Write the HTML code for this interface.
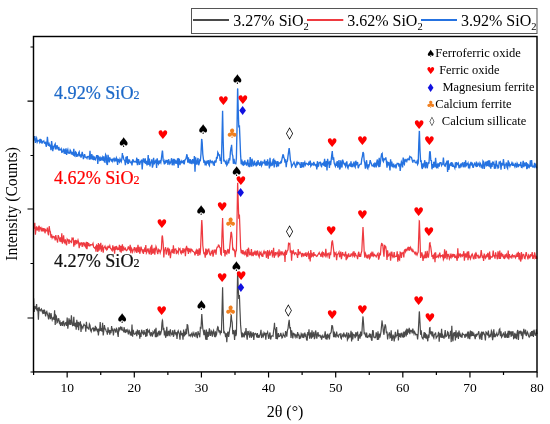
<!DOCTYPE html>
<html><head><meta charset="utf-8"><style>
html,body{margin:0;padding:0;background:#fff;width:550px;height:424px;overflow:hidden}
svg{display:block}
</style></head><body>
<svg width="550" height="424" viewBox="0 0 550 424">
<rect width="550" height="424" fill="#fff"/>
<g fill="none" stroke-width="1.35" stroke-linejoin="miter" style="filter:blur(0.3px)">
<polyline stroke="#2572e0" points="33.6,140.5 34.2,139.1 34.8,136.1 35.4,142.9 36.0,139.8 36.6,138.2 37.2,142.0 37.8,140.5 38.4,140.8 39.0,140.4 39.6,142.0 40.2,138.8 40.8,141.6 41.4,140.6 42.0,143.6 42.6,141.5 43.2,141.5 43.8,141.0 44.4,143.0 45.0,143.3 45.6,142.6 46.2,146.7 46.8,144.7 47.4,136.8 48.0,142.7 48.6,146.0 49.2,144.0 49.8,145.9 50.4,145.5 51.0,150.1 51.6,141.0 52.2,146.2 52.8,151.2 53.4,145.8 54.0,147.5 54.6,145.1 55.2,144.0 55.8,149.5 56.4,147.8 57.0,145.1 57.6,148.0 58.2,149.1 58.8,146.8 59.4,149.9 60.0,149.8 60.6,149.7 61.2,148.8 61.8,152.2 62.4,151.9 63.0,150.5 63.6,148.7 64.2,153.6 64.8,149.4 65.4,154.0 66.0,148.3 66.6,155.0 67.2,151.1 67.8,149.5 68.4,153.0 69.0,153.0 69.6,153.2 70.2,150.2 70.8,151.3 71.4,154.5 72.0,151.8 72.6,154.2 73.2,154.8 73.8,148.9 74.4,155.7 75.0,156.2 75.6,151.9 76.2,152.5 76.8,156.8 77.4,154.2 78.0,156.4 78.6,153.1 79.2,152.0 79.8,156.4 80.4,154.4 81.0,157.7 81.6,155.3 82.2,151.9 82.8,154.8 83.4,159.2 84.0,156.8 84.6,154.1 85.2,157.0 85.8,157.5 86.4,157.2 87.0,158.3 87.6,156.5 88.2,156.4 88.8,156.5 89.4,159.7 90.0,150.9 90.6,159.2 91.2,157.5 91.8,154.0 92.4,159.6 93.0,155.6 93.6,160.1 94.2,156.5 94.8,159.4 95.4,159.9 96.0,157.6 96.6,155.7 97.2,155.7 97.8,163.9 98.4,156.4 99.0,157.1 99.6,159.7 100.2,158.1 100.8,160.9 101.4,158.1 102.0,159.0 102.6,157.4 103.2,161.0 103.8,156.4 104.4,161.9 105.0,162.2 105.6,154.5 106.2,155.6 106.8,163.6 107.4,164.9 108.0,154.9 108.6,158.0 109.2,162.5 109.8,157.4 110.4,159.6 111.0,159.7 111.6,161.6 112.2,158.6 112.8,161.1 113.4,159.5 114.0,158.4 114.6,160.4 115.2,158.4 115.8,161.3 116.4,157.8 117.0,159.1 117.6,164.9 118.2,158.9 118.8,160.5 119.4,161.8 120.0,159.1 120.6,160.6 121.2,161.8 121.8,159.3 122.4,153.0 122.5,157.4 123.0,155.3 123.6,158.7 124.2,160.0 124.8,161.0 125.4,165.1 126.0,156.7 126.6,162.7 127.2,156.1 127.8,163.4 128.4,163.3 129.0,159.8 129.6,160.1 130.2,162.5 130.8,162.8 131.4,162.2 132.0,165.3 132.6,160.0 133.2,160.0 133.8,161.9 134.4,161.6 135.0,161.9 135.6,161.5 136.2,162.1 136.8,157.7 137.4,165.3 138.0,159.6 138.6,159.7 139.2,164.4 139.8,164.2 140.4,161.6 141.0,161.7 141.6,159.6 142.2,169.4 142.8,161.0 143.4,158.5 144.0,161.4 144.6,163.0 145.2,158.4 145.8,164.0 146.4,160.9 147.0,165.4 147.6,163.1 148.2,155.0 148.8,165.0 149.4,158.5 150.0,166.4 150.6,161.5 151.2,163.3 151.8,159.3 152.4,167.6 153.0,165.1 153.6,157.9 154.2,164.3 154.8,160.5 155.4,163.1 156.0,159.6 156.6,168.0 157.2,158.4 157.8,162.8 158.4,163.9 159.0,160.5 159.6,162.6 160.2,161.4 160.8,162.7 161.4,158.6 162.0,153.6 162.4,150.5 162.6,151.7 163.2,160.5 163.8,161.6 164.4,164.4 165.0,160.9 165.6,162.4 166.2,161.0 166.8,161.9 167.4,160.0 168.0,164.8 168.6,159.2 169.2,161.8 169.8,163.9 170.4,162.9 171.0,161.0 171.6,158.2 172.2,165.3 172.8,162.5 173.4,158.8 174.0,165.5 174.6,159.9 175.2,160.4 175.8,163.7 176.4,161.8 177.0,162.9 177.6,158.4 178.2,168.0 178.8,159.0 179.4,159.4 180.0,165.2 180.6,160.8 181.2,163.3 181.8,161.1 182.4,162.4 183.0,162.8 183.6,160.2 184.2,164.5 184.8,160.3 185.4,159.5 186.0,158.6 186.6,155.7 186.7,154.3 187.2,155.6 187.8,162.6 188.4,157.3 189.0,161.6 189.6,163.3 190.2,159.0 190.8,163.6 191.4,161.9 192.0,164.2 192.6,159.1 193.2,161.6 193.8,163.5 194.4,156.1 195.0,171.6 195.6,157.3 196.2,161.1 196.8,164.7 197.4,161.1 198.0,158.0 198.6,165.3 199.2,163.3 199.8,160.0 200.4,160.4 201.0,153.7 201.6,139.7 201.8,139.0 202.2,142.7 202.8,154.3 203.4,158.9 204.0,163.0 204.6,160.3 205.2,165.3 205.8,161.4 206.4,163.8 207.0,161.7 207.6,162.6 208.2,160.1 208.8,164.5 209.4,165.6 210.0,159.7 210.6,161.2 211.2,162.5 211.8,161.3 212.4,161.2 213.0,163.3 213.6,161.5 214.2,165.8 214.8,160.5 215.4,162.1 216.0,161.9 216.6,156.9 217.2,158.7 217.8,152.4 218.2,153.2 218.4,154.1 219.0,155.4 219.6,155.1 220.2,160.9 220.8,157.6 221.4,164.0 222.0,137.4 222.6,110.7 222.6,110.8 223.2,141.5 223.8,160.7 224.4,160.4 225.0,161.5 225.6,163.1 226.2,161.6 226.8,165.3 227.4,164.2 228.0,161.5 228.6,163.4 229.2,158.0 229.8,160.4 230.4,152.0 231.0,147.7 231.3,147.6 231.6,144.7 232.2,154.2 232.8,155.9 233.4,163.8 234.0,158.9 234.6,163.0 235.2,163.7 235.8,163.8 236.4,158.1 237.0,129.2 237.6,89.0 237.7,88.5 238.2,108.7 238.8,127.4 239.4,125.7 239.4,125.2 240.0,139.7 240.6,155.0 241.2,164.2 241.8,159.6 242.4,165.3 243.0,161.3 243.6,165.0 244.2,164.6 244.8,160.3 245.4,163.6 246.0,163.2 246.6,165.7 247.2,163.4 247.8,159.5 248.4,165.3 249.0,164.3 249.6,167.1 250.2,157.1 250.8,163.6 251.4,166.7 252.0,158.7 252.6,161.8 253.2,165.5 253.8,164.9 254.4,160.6 255.0,165.1 255.6,162.9 256.2,166.5 256.8,161.6 257.4,165.4 258.0,160.1 258.6,163.7 259.2,163.2 259.8,165.9 260.4,163.4 261.0,160.9 261.6,165.6 262.2,164.3 262.8,162.2 263.4,162.8 264.0,163.1 264.6,159.6 265.2,165.5 265.8,163.6 266.4,161.1 267.0,165.9 267.6,159.4 268.2,163.5 268.8,162.8 269.4,168.4 270.0,157.7 270.6,166.3 271.2,164.9 271.8,163.3 272.4,165.7 273.0,159.9 273.6,159.3 274.2,167.5 274.8,159.9 275.4,163.9 276.0,161.1 276.6,167.1 277.2,164.4 277.8,161.0 278.4,166.3 279.0,162.8 279.6,162.9 280.2,163.3 280.8,161.7 281.4,162.3 282.0,159.0 282.6,156.2 283.2,157.9 283.3,154.3 283.8,157.4 284.4,158.6 285.0,162.6 285.6,159.3 286.2,167.1 286.8,161.7 287.4,161.1 288.0,156.2 288.6,151.9 289.0,148.8 289.2,148.2 289.8,153.5 290.4,160.1 291.0,162.0 291.6,166.7 292.2,165.7 292.8,164.3 293.4,163.6 294.0,162.4 294.6,164.3 295.2,165.7 295.8,167.7 296.4,163.6 297.0,162.2 297.6,164.1 298.2,162.6 298.8,162.5 299.4,164.2 300.0,164.4 300.6,167.8 301.2,162.1 301.8,166.9 302.4,166.5 303.0,162.2 303.6,167.4 304.2,163.8 304.8,162.2 305.4,164.9 306.0,163.7 306.6,163.3 307.2,163.7 307.8,164.4 308.4,164.8 309.0,161.5 309.6,164.8 310.2,160.5 310.8,166.1 311.4,165.1 312.0,163.7 312.6,164.5 313.2,165.0 313.8,161.9 314.4,164.1 315.0,165.4 315.6,165.8 316.2,163.9 316.8,169.4 317.4,161.2 318.0,166.4 318.6,165.9 319.2,162.5 319.8,162.3 320.4,162.2 321.0,165.7 321.6,166.5 322.2,163.6 322.8,164.2 323.4,163.1 324.0,165.8 324.6,158.7 325.2,166.9 325.8,164.0 326.4,161.0 327.0,170.5 327.6,158.8 328.2,163.2 328.8,162.6 329.4,167.9 330.0,160.9 330.6,165.2 331.2,160.0 331.8,154.6 332.3,151.1 332.4,153.0 333.0,159.9 333.6,157.3 334.2,163.1 334.8,164.7 335.4,166.3 336.0,164.0 336.6,165.7 337.2,161.1 337.8,167.6 338.4,164.7 339.0,160.1 339.6,169.5 340.2,168.0 340.8,160.3 341.4,165.3 342.0,167.5 342.6,159.6 343.2,161.4 343.8,163.5 344.4,164.5 345.0,163.7 345.6,166.4 346.2,164.4 346.8,161.3 347.4,167.0 348.0,168.2 348.6,165.3 349.2,165.5 349.8,163.5 350.4,166.7 351.0,161.3 351.6,167.2 352.2,163.6 352.8,167.2 353.4,164.4 354.0,161.6 354.6,166.0 355.2,167.2 355.8,160.7 356.4,164.4 357.0,163.4 357.6,162.0 358.2,168.3 358.8,166.6 359.4,165.1 360.0,164.3 360.6,164.1 361.2,164.1 361.8,158.7 362.4,156.3 363.0,152.1 363.0,151.9 363.6,153.3 364.2,160.8 364.8,163.1 365.4,168.7 366.0,163.2 366.6,160.2 367.2,167.5 367.8,168.5 368.4,164.3 369.0,166.0 369.6,163.9 370.2,160.2 370.8,162.6 371.4,163.7 372.0,165.7 372.6,165.6 373.2,166.0 373.8,163.3 374.4,167.3 375.0,163.1 375.6,163.4 376.2,167.4 376.8,161.8 377.4,159.5 378.0,165.2 378.6,166.1 379.2,157.7 379.8,166.9 380.4,163.0 381.0,157.5 381.6,154.1 382.0,154.3 382.2,153.9 382.8,160.6 383.4,161.6 384.0,158.9 384.6,159.5 385.2,158.9 385.4,159.5 385.8,157.3 386.4,161.7 387.0,167.6 387.6,162.8 388.2,164.2 388.8,162.0 389.4,165.2 390.0,170.4 390.6,159.4 391.2,166.4 391.8,161.7 392.4,166.7 393.0,166.8 393.6,163.5 394.2,166.8 394.8,165.8 395.4,165.2 396.0,168.4 396.6,164.9 397.2,163.4 397.8,163.7 398.4,163.6 399.0,166.7 399.6,163.5 400.2,171.0 400.8,165.7 401.4,161.9 402.0,163.4 402.6,167.4 403.2,157.6 403.8,163.5 404.4,164.4 405.0,158.9 405.6,160.8 406.2,160.1 406.8,161.3 407.4,159.1 408.0,159.5 408.6,159.4 409.2,158.1 409.5,160.3 409.8,156.4 410.4,156.8 411.0,157.0 411.6,157.9 412.2,160.1 412.8,162.7 413.4,160.4 414.0,160.2 414.6,160.5 415.2,162.5 415.8,162.7 416.4,162.7 417.0,161.3 417.6,164.3 418.2,163.0 418.8,142.9 419.3,131.8 419.4,130.9 420.0,150.6 420.6,161.1 421.2,160.9 421.8,167.3 422.4,169.0 423.0,163.4 423.6,167.5 424.2,163.6 424.8,160.2 425.4,168.3 426.0,163.5 426.6,162.1 427.2,168.3 427.8,164.8 428.4,162.8 429.0,162.9 429.6,152.7 430.0,153.3 430.2,151.3 430.8,160.3 431.4,160.7 432.0,169.3 432.6,164.0 433.2,168.0 433.8,161.7 434.4,164.8 435.0,167.4 435.6,157.9 436.2,165.4 436.8,168.4 437.4,165.0 438.0,166.7 438.6,163.3 439.2,166.6 439.8,162.8 440.4,162.6 441.0,162.6 441.6,165.5 442.2,164.3 442.8,164.1 443.4,157.6 444.0,164.1 444.6,165.8 445.2,166.2 445.8,163.4 446.4,163.6 447.0,160.7 447.6,172.0 448.2,160.4 448.8,170.0 449.4,166.8 450.0,164.0 450.6,163.4 451.2,165.9 451.8,162.2 452.4,166.8 453.0,164.7 453.6,166.2 454.2,166.6 454.8,168.0 455.4,162.3 456.0,167.8 456.6,162.1 457.2,163.8 457.8,164.5 458.4,163.4 459.0,168.2 459.6,166.1 460.2,166.9 460.8,163.6 461.4,165.6 462.0,163.4 462.6,163.0 463.2,167.2 463.8,165.2 464.4,162.2 465.0,167.5 465.6,160.4 466.2,166.4 466.8,163.8 467.4,164.4 468.0,163.1 468.6,168.3 469.2,165.3 469.8,167.1 470.4,164.1 471.0,161.9 471.6,165.5 472.2,162.7 472.8,167.2 473.4,167.3 474.0,164.5 474.6,163.3 475.2,164.8 475.8,165.8 476.4,161.5 477.0,166.8 477.6,165.3 478.2,163.5 478.8,164.6 479.4,165.8 480.0,162.9 480.6,163.9 481.2,167.6 481.8,164.7 482.4,168.6 483.0,161.0 483.6,161.9 484.2,168.9 484.8,166.2 485.4,162.3 486.0,162.4 486.6,166.4 487.2,161.0 487.8,166.0 488.4,160.4 489.0,166.7 489.6,160.4 490.2,166.6 490.8,168.6 491.4,162.8 492.0,167.0 492.6,162.7 493.2,163.6 493.8,162.5 494.4,168.8 495.0,163.8 495.6,168.7 496.2,160.6 496.8,165.6 497.4,165.4 498.0,168.1 498.6,167.6 499.2,161.6 499.8,163.0 500.4,162.2 501.0,169.8 501.6,163.4 502.2,163.6 502.8,165.5 503.4,159.2 504.0,163.6 504.6,168.8 505.2,164.9 505.8,164.9 506.4,162.5 507.0,167.3 507.6,168.4 508.2,160.3 508.8,166.2 509.4,163.9 510.0,166.2 510.6,164.6 511.2,164.6 511.8,163.1 512.4,165.8 513.0,163.6 513.6,165.2 514.2,164.9 514.8,166.5 515.4,162.9 516.0,164.8 516.6,167.7 517.2,163.3 517.8,164.6 518.4,167.2 519.0,164.7 519.6,164.9 520.2,165.3 520.8,161.9 521.4,167.3 522.0,167.5 522.6,164.9 523.2,160.8 523.8,167.2 524.4,162.6 525.0,165.4 525.6,165.5 526.2,162.1 526.8,169.2 527.4,163.4 528.0,166.8 528.6,165.6 529.2,167.4 529.8,166.3 530.4,160.4 531.0,166.6 531.6,160.1 532.2,166.1 532.8,167.0 533.4,166.3 534.0,167.0 534.6,162.8 535.2,166.1 535.8,164.9 536.4,167.7 537.0,167.3"/>
<polyline stroke="#ee3a40" stroke-width="1.25" points="33.6,226.3 34.2,227.4 34.8,222.8 35.4,234.6 36.0,228.9 36.6,226.4 37.2,230.5 37.8,228.4 38.4,227.1 39.0,231.6 39.6,227.2 40.2,228.6 40.8,227.8 41.4,231.3 42.0,229.0 42.6,231.3 43.2,228.2 43.8,231.3 44.4,228.3 45.0,233.3 45.6,230.0 46.2,230.9 46.8,230.9 47.4,227.6 48.0,233.4 48.6,235.2 49.2,226.2 49.8,230.5 50.4,231.9 51.0,237.7 51.6,234.4 52.2,237.9 52.8,236.6 53.4,236.4 54.0,237.6 54.6,237.0 55.2,240.4 55.8,235.1 56.4,238.8 57.0,239.6 57.6,242.5 58.2,235.1 58.8,237.1 59.4,238.6 60.0,241.6 60.6,237.4 61.2,242.2 61.8,233.4 62.4,243.7 63.0,240.7 63.6,235.4 64.2,241.7 64.8,242.8 65.4,239.4 66.0,242.8 66.6,245.3 67.2,239.3 67.8,240.4 68.4,240.0 69.0,243.8 69.6,240.4 70.2,241.3 70.8,241.4 71.4,243.1 72.0,238.4 72.6,239.1 73.2,237.5 73.8,246.7 74.4,240.4 75.0,245.1 75.6,240.4 76.2,240.5 76.8,244.2 77.4,242.0 78.0,240.1 78.6,242.4 79.2,248.3 79.8,242.6 80.4,244.4 81.0,243.0 81.6,242.8 82.2,246.9 82.8,243.1 83.4,242.8 84.0,245.0 84.6,242.7 85.2,246.0 85.8,247.1 86.4,241.8 87.0,249.1 87.6,242.1 88.2,246.2 88.8,243.2 89.4,245.8 90.0,245.8 90.6,244.6 91.2,244.6 91.8,245.0 92.4,244.8 93.0,243.4 93.6,247.2 94.2,247.5 94.8,248.2 95.4,247.2 96.0,251.7 96.6,245.2 97.2,245.8 97.8,252.0 98.4,243.1 99.0,250.8 99.6,244.4 100.2,249.4 100.8,242.8 101.4,251.7 102.0,246.4 102.6,245.7 103.2,252.6 103.8,247.9 104.4,247.2 105.0,246.2 105.6,248.6 106.2,247.7 106.8,249.9 107.4,249.2 108.0,245.8 108.6,247.6 109.2,247.5 109.8,245.7 110.4,248.3 111.0,248.7 111.6,250.0 112.2,250.7 112.8,245.2 113.4,250.5 114.0,246.9 114.6,253.7 115.2,246.3 115.8,249.8 116.4,246.0 117.0,247.7 117.6,250.0 118.2,247.6 118.8,249.9 119.4,244.8 120.0,251.7 120.6,245.7 121.2,252.7 121.5,245.7 121.8,250.8 122.4,244.2 123.0,251.2 123.6,246.5 124.2,248.8 124.8,249.6 125.4,248.4 126.0,250.1 126.6,250.6 127.2,249.9 127.8,248.4 128.4,246.3 129.0,248.9 129.6,249.7 130.2,244.8 130.8,253.3 131.4,248.2 132.0,249.2 132.6,251.9 133.2,250.1 133.8,249.4 134.4,247.1 135.0,251.4 135.6,250.2 136.2,247.4 136.8,253.0 137.4,249.9 138.0,244.8 138.6,252.1 139.2,246.9 139.8,253.8 140.4,250.6 141.0,246.6 141.6,249.1 142.2,251.2 142.8,249.4 143.4,253.8 144.0,250.2 144.6,248.8 145.2,251.8 145.8,245.0 146.4,253.0 147.0,251.9 147.6,249.0 148.2,248.9 148.8,252.4 149.4,254.3 150.0,248.9 150.6,247.7 151.2,254.9 151.8,244.8 152.4,253.6 153.0,248.8 153.6,253.3 154.2,247.8 154.8,254.6 155.4,250.0 156.0,246.5 156.6,248.1 157.2,252.1 157.8,254.1 158.4,249.8 159.0,250.9 159.6,250.3 160.2,252.8 160.8,250.9 161.4,249.0 162.0,237.2 162.4,235.5 162.6,237.2 163.2,243.9 163.8,257.4 164.4,250.3 165.0,249.2 165.6,247.2 166.2,254.5 166.8,251.7 167.4,249.2 168.0,247.6 168.6,255.5 169.2,248.7 169.8,250.7 170.4,258.1 171.0,253.1 171.6,251.2 172.2,249.2 172.8,253.2 173.4,245.4 174.0,253.8 174.6,249.5 175.2,249.2 175.8,249.0 176.4,254.2 177.0,251.0 177.6,251.6 178.2,253.1 178.8,248.6 179.4,249.5 180.0,248.7 180.6,252.5 181.2,253.5 181.8,250.4 182.4,253.1 183.0,248.2 183.6,251.7 184.2,250.3 184.8,249.4 185.4,256.3 186.0,249.4 186.6,245.8 186.7,247.2 187.2,249.6 187.8,247.7 188.4,254.0 189.0,248.3 189.6,252.2 190.2,249.8 190.8,251.7 191.4,249.2 192.0,249.6 192.6,251.2 193.2,251.3 193.8,251.9 194.4,252.3 195.0,255.3 195.6,252.2 196.2,250.5 196.8,253.8 197.4,249.6 198.0,255.9 198.6,251.7 199.2,248.3 199.8,255.1 200.4,252.1 201.0,238.1 201.6,223.1 201.8,220.0 202.2,226.2 202.8,245.5 203.4,250.6 204.0,254.2 204.6,252.3 205.2,257.8 205.8,248.6 206.4,255.2 207.0,251.2 207.6,252.7 208.2,249.3 208.8,249.1 209.4,252.4 210.0,254.8 210.6,255.1 211.2,252.0 211.8,252.8 212.4,249.9 213.0,256.7 213.6,253.8 214.2,249.7 214.8,252.5 215.4,249.5 216.0,254.8 216.6,248.8 217.2,247.1 217.8,247.1 218.2,246.4 218.4,245.0 219.0,245.2 219.6,247.3 220.2,247.9 220.8,254.2 221.4,254.8 222.0,233.8 222.6,218.3 222.6,218.1 223.2,237.3 223.8,252.9 224.4,249.9 225.0,256.5 225.6,250.1 226.2,253.5 226.8,254.1 227.4,251.0 228.0,249.0 228.6,253.0 229.2,253.1 229.8,246.2 230.4,239.9 231.0,232.4 231.3,232.3 231.6,233.4 232.2,239.4 232.8,250.3 233.4,248.9 234.0,250.4 234.6,250.2 235.2,257.1 235.8,251.4 236.4,250.8 237.0,221.6 237.6,184.2 237.7,182.7 238.2,201.3 238.8,218.8 239.4,215.4 239.4,214.4 240.0,230.3 240.6,247.3 241.2,253.1 241.8,251.5 242.4,254.0 243.0,250.2 243.6,254.4 244.2,251.7 244.8,253.9 245.4,251.9 246.0,254.3 246.6,255.6 247.2,249.0 247.8,256.6 248.4,247.7 249.0,250.4 249.6,255.2 250.2,253.4 250.8,254.3 251.4,249.1 252.0,254.8 252.6,253.7 253.2,256.1 253.8,251.8 254.4,254.7 255.0,250.6 255.6,254.0 256.2,252.6 256.8,255.5 257.4,250.5 258.0,252.6 258.6,255.6 259.2,257.0 259.8,252.5 260.4,253.8 261.0,252.4 261.6,256.4 262.2,253.7 262.8,257.0 263.4,252.6 264.0,251.1 264.6,253.3 265.2,252.0 265.8,251.8 266.4,257.8 267.0,254.2 267.6,250.0 268.2,259.0 268.8,252.5 269.4,251.3 270.0,255.6 270.6,253.2 271.2,252.1 271.8,250.2 272.4,255.9 273.0,254.5 273.6,247.7 274.2,257.8 274.8,254.7 275.4,252.2 276.0,254.6 276.6,253.2 277.2,252.3 277.8,254.0 278.4,257.4 279.0,249.3 279.6,256.0 280.2,254.2 280.8,252.2 281.4,253.8 282.0,251.3 282.6,253.6 283.2,255.0 283.8,254.8 284.4,251.7 285.0,262.0 285.6,249.7 286.2,254.8 286.8,252.6 287.4,250.6 288.0,250.0 288.6,242.5 289.0,244.9 289.2,243.8 289.8,243.5 290.4,252.6 291.0,250.3 291.6,260.6 292.2,250.6 292.8,252.6 293.4,251.0 294.0,253.4 294.6,254.4 295.2,252.7 295.8,252.6 296.4,254.1 297.0,254.7 297.6,257.9 298.2,249.1 298.8,255.0 299.4,252.9 300.0,252.0 300.6,253.2 301.2,253.8 301.8,257.1 302.4,253.4 303.0,253.5 303.6,256.5 304.2,254.6 304.8,253.8 305.4,255.7 306.0,252.3 306.6,256.9 307.2,255.0 307.8,253.2 308.4,252.3 309.0,259.3 309.6,253.3 310.2,261.5 310.8,250.0 311.4,257.3 312.0,252.8 312.6,255.7 313.2,256.3 313.8,252.0 314.4,255.3 315.0,255.2 315.6,254.8 316.2,256.0 316.8,256.4 317.4,255.6 318.0,254.5 318.6,253.7 319.2,252.5 319.8,254.2 320.4,254.3 321.0,256.9 321.6,253.3 322.2,252.3 322.8,257.5 323.4,252.3 324.0,253.9 324.6,255.1 325.2,256.1 325.8,248.9 326.4,254.8 327.0,256.4 327.6,253.9 328.2,253.3 328.8,254.5 329.4,258.6 330.0,252.2 330.6,255.2 331.2,249.8 331.8,242.1 332.3,241.5 332.4,240.4 333.0,245.1 333.6,249.8 334.2,257.2 334.8,253.1 335.4,254.1 336.0,253.0 336.6,260.2 337.2,254.8 337.8,253.9 338.4,253.6 339.0,252.2 339.6,257.2 340.2,255.4 340.8,251.5 341.4,259.1 342.0,255.6 342.6,252.1 343.2,254.8 343.8,254.7 344.4,255.9 345.0,254.6 345.6,251.5 346.2,260.1 346.8,254.3 347.4,257.7 348.0,256.7 348.6,253.4 349.2,256.1 349.8,256.5 350.4,256.2 351.0,254.0 351.6,253.9 352.2,255.9 352.8,253.3 353.4,254.8 354.0,251.2 354.6,257.5 355.2,252.8 355.8,255.0 356.4,255.7 357.0,256.0 357.6,259.2 358.2,253.8 358.8,251.8 359.4,257.0 360.0,253.8 360.6,256.8 361.2,253.0 361.8,250.8 362.4,238.5 363.0,227.5 363.0,227.0 363.6,238.4 364.2,252.0 364.8,257.7 365.4,253.4 366.0,254.8 366.6,257.1 367.2,256.0 367.8,258.5 368.4,255.1 369.0,254.8 369.6,258.5 370.2,257.5 370.8,252.8 371.4,256.3 372.0,251.5 372.6,256.3 373.2,253.8 373.8,255.9 374.4,254.6 375.0,255.6 375.6,255.4 376.2,256.7 376.8,255.5 377.4,254.0 378.0,253.2 378.6,259.6 379.2,257.5 379.8,252.8 380.4,255.4 381.0,246.7 381.6,243.4 382.0,243.5 382.2,245.2 382.8,245.1 383.4,251.6 384.0,256.7 384.6,244.9 385.2,248.3 385.4,246.3 385.8,246.7 386.4,252.0 387.0,259.9 387.6,250.2 388.2,256.1 388.8,255.4 389.4,254.3 390.0,253.3 390.6,260.7 391.2,254.6 391.8,251.5 392.4,255.9 393.0,257.3 393.6,256.2 394.2,252.0 394.8,257.0 395.4,256.4 396.0,256.3 396.6,256.2 397.2,251.2 397.8,261.7 398.4,254.2 399.0,259.4 399.6,260.0 400.2,252.1 400.8,252.5 401.4,257.9 402.0,253.3 402.6,253.4 403.2,251.9 403.8,257.5 404.4,250.2 405.0,249.6 405.6,251.6 406.2,248.9 406.8,251.2 407.4,248.6 408.0,247.6 408.6,250.4 409.2,247.1 409.5,250.1 409.8,250.0 410.4,247.2 411.0,248.2 411.6,250.2 412.2,251.3 412.8,249.8 413.4,251.5 414.0,251.7 414.6,253.1 415.2,254.1 415.8,251.6 416.4,253.8 417.0,255.1 417.6,253.2 418.2,252.1 418.8,234.3 419.3,220.9 419.4,221.0 420.0,239.4 420.6,257.9 421.2,255.8 421.8,252.3 422.4,255.0 423.0,260.9 423.6,257.3 424.2,254.6 424.8,258.3 425.4,251.3 426.0,257.4 426.6,257.5 427.2,250.9 427.8,255.9 428.4,257.6 429.0,252.8 429.6,243.1 430.0,242.8 430.2,244.4 430.8,247.3 431.4,251.8 432.0,256.9 432.6,255.0 433.2,259.2 433.8,254.9 434.4,253.9 435.0,262.1 435.6,252.3 436.2,257.4 436.8,256.9 437.4,256.9 438.0,255.4 438.6,257.0 439.2,255.1 439.8,252.7 440.4,256.8 441.0,255.6 441.6,255.7 442.2,256.4 442.8,254.3 443.4,259.5 444.0,258.1 444.6,249.3 445.2,258.1 445.8,254.2 446.4,250.7 447.0,259.5 447.6,254.0 448.2,255.6 448.8,254.8 449.4,259.0 450.0,257.6 450.6,255.2 451.2,257.2 451.8,254.9 452.4,256.3 453.0,254.0 453.6,256.7 454.2,254.2 454.8,257.5 455.4,257.4 456.0,255.7 456.6,258.3 457.2,260.8 457.8,248.3 458.4,258.1 459.0,254.6 459.6,255.4 460.2,253.3 460.8,257.4 461.4,255.2 462.0,254.7 462.6,256.0 463.2,254.8 463.8,251.2 464.4,260.7 465.0,254.1 465.6,254.0 466.2,257.6 466.8,254.1 467.4,251.6 468.0,260.1 468.6,251.2 469.2,257.1 469.8,256.4 470.4,258.8 471.0,257.2 471.6,255.1 472.2,254.0 472.8,255.7 473.4,258.8 474.0,258.9 474.6,255.3 475.2,253.9 475.8,258.9 476.4,254.0 477.0,255.4 477.6,255.7 478.2,257.5 478.8,255.9 479.4,257.9 480.0,257.8 480.6,255.8 481.2,250.1 481.8,254.4 482.4,258.0 483.0,255.6 483.6,260.9 484.2,253.6 484.8,255.6 485.4,258.2 486.0,257.4 486.6,254.3 487.2,257.2 487.8,252.9 488.4,254.9 489.0,259.7 489.6,251.5 490.2,259.5 490.8,256.5 491.4,257.0 492.0,257.2 492.6,256.3 493.2,250.5 493.8,255.8 494.4,255.6 495.0,258.6 495.6,252.4 496.2,255.5 496.8,255.8 497.4,259.3 498.0,251.3 498.6,254.3 499.2,258.8 499.8,250.5 500.4,258.9 501.0,254.6 501.6,252.8 502.2,256.6 502.8,254.1 503.4,257.4 504.0,256.6 504.6,259.0 505.2,254.4 505.8,256.2 506.4,254.5 507.0,256.5 507.6,258.4 508.2,250.5 508.8,259.4 509.4,254.1 510.0,256.7 510.6,256.6 511.2,257.6 511.8,255.6 512.4,254.8 513.0,257.1 513.6,255.7 514.2,255.5 514.8,256.6 515.4,257.7 516.0,255.4 516.6,256.2 517.2,252.9 517.8,257.0 518.4,251.9 519.0,259.5 519.6,253.1 520.2,259.9 520.8,261.5 521.4,252.0 522.0,259.4 522.6,255.5 523.2,254.3 523.8,254.6 524.4,258.1 525.0,258.6 525.6,255.4 526.2,252.2 526.8,255.2 527.4,256.5 528.0,259.3 528.6,255.2 529.2,256.4 529.8,258.4 530.4,254.3 531.0,256.0 531.6,255.7 532.2,252.1 532.8,258.9 533.4,256.5 534.0,257.8 534.6,252.3 535.2,255.4 535.8,259.0 536.4,255.8 537.0,258.8"/>
<polyline stroke="#4a4a4a" stroke-width="1.2" points="33.6,298.3 34.2,312.0 34.8,306.1 35.4,307.9 36.0,308.7 36.6,304.0 37.2,311.2 37.8,307.7 38.4,319.8 39.0,307.0 39.6,309.5 40.2,310.7 40.8,309.6 41.4,309.0 42.0,311.2 42.6,312.7 43.2,309.8 43.8,313.8 44.4,309.7 45.0,312.2 45.6,316.5 46.2,312.5 46.8,311.5 47.4,314.1 48.0,316.2 48.6,319.5 49.2,312.5 49.8,315.6 50.4,319.1 51.0,313.0 51.6,317.1 52.2,319.9 52.8,318.0 53.4,317.4 54.0,319.8 54.6,310.3 55.2,324.9 55.8,315.4 56.4,316.3 57.0,322.7 57.6,321.9 58.2,318.7 58.8,318.8 59.4,322.8 60.0,321.7 60.6,326.0 61.2,322.9 61.8,322.6 62.4,325.9 63.0,321.5 63.6,321.3 64.2,326.3 64.8,324.7 65.4,322.8 66.0,322.4 66.6,325.9 67.2,317.5 67.8,328.7 68.4,324.0 69.0,318.2 69.6,324.8 70.2,319.7 70.8,325.0 71.4,315.2 72.0,322.1 72.6,325.6 73.2,325.4 73.8,316.8 74.4,325.7 75.0,326.0 75.6,322.7 76.2,329.7 76.8,319.8 77.4,327.3 78.0,321.9 78.6,330.1 79.2,323.5 79.8,324.4 80.4,321.3 81.0,332.0 81.6,325.7 82.2,327.0 82.8,328.2 83.4,325.9 84.0,324.4 84.6,325.3 85.2,325.7 85.8,331.6 86.4,321.7 87.0,327.6 87.6,327.4 88.2,328.7 88.8,329.1 89.4,324.0 90.0,325.1 90.6,330.3 91.2,331.6 91.8,329.1 92.4,328.4 93.0,327.8 93.6,330.1 94.2,328.0 94.8,331.4 95.4,325.9 96.0,330.3 96.6,328.5 97.2,330.6 97.8,328.9 98.4,335.5 99.0,330.0 99.6,331.3 100.2,322.1 100.8,330.8 101.4,328.2 102.0,331.6 102.6,322.9 103.2,335.4 103.8,331.1 104.4,325.1 105.0,328.8 105.6,329.0 106.2,331.1 106.8,331.7 107.4,334.7 108.0,327.2 108.6,332.5 109.2,329.7 109.8,334.7 110.4,330.2 111.0,333.1 111.6,326.0 112.2,331.2 112.8,328.6 113.4,335.5 114.0,330.6 114.6,329.1 115.2,329.9 115.8,332.6 116.4,328.4 117.0,329.2 117.6,333.3 118.2,336.9 118.8,327.4 119.4,329.8 120.0,328.1 120.6,327.3 121.2,330.4 121.5,328.9 121.8,326.9 122.4,330.0 123.0,330.5 123.6,331.4 124.2,327.2 124.8,332.0 125.4,332.3 126.0,329.3 126.6,331.3 127.2,330.0 127.8,331.8 128.4,334.4 129.0,329.7 129.6,331.9 130.2,334.2 130.8,332.6 131.4,335.7 132.0,324.5 132.6,336.8 133.2,329.8 133.8,333.0 134.4,334.2 135.0,334.0 135.6,333.6 136.2,331.4 136.8,336.3 137.4,329.6 138.0,332.3 138.6,334.6 139.2,330.0 139.8,338.8 140.4,332.6 141.0,337.0 141.6,329.8 142.2,331.6 142.8,333.5 143.4,334.3 144.0,330.2 144.6,334.4 145.2,332.2 145.8,337.0 146.4,329.1 147.0,336.3 147.6,329.9 148.2,331.1 148.8,332.1 149.4,330.6 150.0,334.7 150.6,335.5 151.2,332.2 151.8,334.5 152.4,336.6 153.0,331.9 153.6,333.3 154.2,332.2 154.8,329.3 155.4,337.1 156.0,327.7 156.6,337.1 157.2,332.5 157.8,336.3 158.4,331.8 159.0,331.2 159.6,335.3 160.2,331.4 160.8,333.4 161.4,331.0 162.0,322.8 162.4,320.3 162.6,320.7 163.2,330.1 163.8,327.7 164.4,335.5 165.0,330.5 165.6,337.8 166.2,335.5 166.8,326.8 167.4,336.2 168.0,333.0 168.6,330.9 169.2,336.1 169.8,331.7 170.4,329.4 171.0,334.9 171.6,333.5 172.2,334.0 172.8,330.2 173.4,336.7 174.0,334.8 174.6,329.7 175.2,333.2 175.8,334.2 176.4,332.2 177.0,338.9 177.6,332.1 178.2,330.7 178.8,332.8 179.4,334.4 180.0,339.8 180.6,330.5 181.2,334.2 181.8,334.9 182.4,333.0 183.0,339.8 183.6,329.6 184.2,336.3 184.8,333.3 185.4,335.1 186.0,328.9 186.6,334.1 187.2,324.0 187.3,325.7 187.8,325.5 188.4,330.8 189.0,335.8 189.6,335.7 190.2,334.7 190.8,336.1 191.4,334.3 192.0,333.1 192.6,336.1 193.2,334.5 193.8,332.9 194.4,335.9 195.0,336.4 195.6,333.0 196.2,332.7 196.8,336.3 197.4,338.1 198.0,331.2 198.6,334.0 199.2,333.7 199.8,337.3 200.4,326.8 201.0,328.7 201.6,317.0 201.8,314.1 202.2,320.0 202.8,328.5 203.4,331.4 204.0,335.2 204.6,329.8 205.2,334.4 205.8,339.6 206.4,329.6 207.0,340.0 207.6,331.7 208.2,336.8 208.8,333.1 209.4,328.2 210.0,335.3 210.6,335.3 211.2,330.9 211.8,332.0 212.4,336.7 213.0,332.0 213.6,330.5 214.2,334.3 214.8,337.0 215.4,331.4 216.0,335.7 216.6,334.3 217.2,328.8 217.8,326.8 218.2,327.3 218.4,330.2 219.0,331.8 219.6,330.9 220.2,333.6 220.8,331.7 221.4,333.1 222.0,311.6 222.6,287.6 222.6,287.2 223.2,314.7 223.8,333.3 224.4,331.9 225.0,333.1 225.6,337.2 226.2,333.3 226.8,342.2 227.4,333.3 228.0,331.6 228.6,337.0 229.2,333.4 229.8,328.5 230.4,326.1 231.0,316.6 231.3,314.6 231.6,319.6 232.2,322.5 232.8,334.3 233.4,330.1 234.0,332.0 234.6,339.9 235.2,329.8 235.8,336.1 236.4,333.9 237.0,306.4 237.6,272.6 237.7,271.7 238.2,287.9 238.8,298.9 239.4,295.0 239.4,294.9 240.0,310.7 240.6,324.9 241.2,331.7 241.8,337.5 242.4,332.6 243.0,335.8 243.6,334.6 244.2,337.5 244.8,331.5 245.4,335.1 246.0,328.0 246.6,335.3 247.2,339.7 247.8,331.0 248.4,333.6 249.0,332.3 249.6,337.6 250.2,334.4 250.8,331.3 251.4,337.8 252.0,334.6 252.6,336.4 253.2,332.1 253.8,340.0 254.4,333.7 255.0,333.9 255.6,333.5 256.2,334.7 256.8,337.3 257.4,333.0 258.0,337.9 258.6,335.0 259.2,337.6 259.8,335.3 260.4,333.7 261.0,329.8 261.6,337.9 262.2,336.5 262.8,334.3 263.4,336.1 264.0,332.9 264.6,334.4 265.2,332.8 265.8,339.6 266.4,333.7 267.0,333.4 267.6,332.0 268.2,336.1 268.8,338.9 269.4,334.4 270.0,332.5 270.6,339.5 271.2,337.0 271.8,335.8 272.4,335.8 273.0,336.2 273.6,331.0 274.2,326.6 274.5,322.8 274.8,328.3 275.4,329.5 276.0,338.9 276.6,327.1 277.2,339.3 277.8,336.8 278.4,333.0 279.0,336.6 279.6,336.5 280.2,335.7 280.8,332.9 281.4,335.3 282.0,337.9 282.6,337.2 283.2,333.8 283.8,335.2 284.4,335.5 285.0,337.6 285.6,331.1 286.2,332.8 286.8,336.7 287.4,330.5 288.0,328.7 288.6,323.3 289.0,321.5 289.2,319.8 289.8,328.4 290.4,327.0 291.0,337.9 291.6,330.3 292.2,333.7 292.8,338.4 293.4,333.4 294.0,333.6 294.6,335.0 295.2,337.0 295.8,334.6 296.4,335.2 297.0,338.1 297.6,332.1 298.2,334.9 298.8,334.5 299.4,339.0 300.0,336.5 300.6,337.5 301.2,333.7 301.8,334.9 302.4,337.7 303.0,333.3 303.6,338.0 304.2,336.2 304.8,332.6 305.4,335.9 306.0,335.1 306.6,340.0 307.2,340.1 307.8,332.0 308.4,335.5 309.0,329.3 309.6,338.6 310.2,335.1 310.8,332.5 311.4,338.7 312.0,330.3 312.6,336.6 313.2,336.0 313.8,331.9 314.4,339.1 315.0,337.1 315.6,330.5 316.2,333.3 316.8,338.6 317.4,334.6 318.0,332.2 318.6,336.0 319.2,335.4 319.8,335.1 320.4,337.7 321.0,335.4 321.6,339.6 322.2,336.9 322.8,335.5 323.4,337.4 324.0,337.6 324.6,335.7 325.2,331.3 325.8,339.1 326.4,334.6 327.0,339.6 327.6,333.7 328.2,336.7 328.8,335.7 329.4,339.4 330.0,333.7 330.6,333.3 331.2,332.1 331.8,325.8 332.3,325.9 332.4,325.3 333.0,329.3 333.6,337.2 334.2,331.6 334.8,335.9 335.4,334.9 336.0,337.5 336.6,331.5 337.2,335.0 337.8,336.2 338.4,336.9 339.0,334.7 339.6,334.2 340.2,333.8 340.8,337.8 341.4,338.7 342.0,334.6 342.6,335.6 343.2,336.4 343.8,332.5 344.4,335.8 345.0,335.1 345.6,336.6 346.2,335.1 346.8,332.3 347.4,339.9 348.0,338.6 348.6,332.8 349.2,336.9 349.8,335.7 350.4,337.3 351.0,330.7 351.6,341.5 352.2,332.4 352.8,339.4 353.4,334.2 354.0,334.4 354.6,335.6 355.2,338.1 355.8,332.2 356.4,335.6 357.0,334.7 357.6,331.6 358.2,341.0 358.8,335.5 359.4,334.8 360.0,338.6 360.6,331.6 361.2,335.6 361.8,334.9 362.4,323.8 363.0,316.4 363.0,316.7 363.6,324.0 364.2,334.3 364.8,332.3 365.4,335.5 366.0,337.4 366.6,332.5 367.2,337.2 367.8,337.4 368.4,335.9 369.0,336.1 369.6,333.5 370.2,337.7 370.8,333.8 371.4,339.5 372.0,340.8 372.6,330.6 373.2,330.7 373.8,337.1 374.4,337.1 375.0,337.9 375.6,337.2 376.2,332.3 376.8,334.4 377.4,339.9 378.0,331.2 378.6,339.8 379.2,333.7 379.8,337.7 380.4,335.2 381.0,331.6 381.6,325.4 382.1,320.4 382.2,322.9 382.8,325.6 383.4,331.8 384.0,334.8 384.6,327.4 385.2,324.8 385.4,324.9 385.8,326.9 386.4,333.2 387.0,331.5 387.6,339.4 388.2,335.0 388.8,334.7 389.4,332.4 390.0,337.9 390.6,337.2 391.2,330.2 391.8,340.9 392.4,338.6 393.0,334.6 393.6,336.6 394.2,341.5 394.8,336.1 395.4,331.8 396.0,336.7 396.6,335.3 397.2,335.4 397.8,329.6 398.4,340.4 399.0,333.0 399.6,336.7 400.2,334.8 400.8,337.7 401.4,333.3 402.0,333.2 402.6,336.9 403.2,337.2 403.8,331.6 404.4,337.3 405.0,332.4 405.6,331.3 406.2,336.4 406.8,328.6 407.4,334.7 408.0,329.2 408.6,332.6 409.2,327.9 409.5,330.4 409.8,334.1 410.4,330.5 411.0,331.2 411.6,330.6 412.2,333.3 412.8,328.6 413.4,331.6 414.0,333.9 414.6,331.7 415.2,333.1 415.8,334.8 416.4,334.3 417.0,334.4 417.6,339.4 418.2,333.2 418.8,321.6 419.3,311.5 419.4,311.8 420.0,322.8 420.6,334.8 421.2,330.4 421.8,336.5 422.4,338.2 423.0,338.9 423.6,336.2 424.2,332.1 424.8,337.9 425.4,332.9 426.0,338.7 426.6,334.3 427.2,337.9 427.8,341.3 428.4,334.5 429.0,337.8 429.6,327.8 430.0,327.6 430.2,331.5 430.8,334.5 431.4,331.3 432.0,336.3 432.6,331.6 433.2,336.7 433.8,338.1 434.4,334.2 435.0,334.1 435.6,332.5 436.2,338.1 436.8,337.2 437.4,336.1 438.0,335.4 438.6,331.8 439.2,341.6 439.8,333.2 440.4,335.2 441.0,337.6 441.6,328.9 442.2,337.9 442.8,335.2 443.4,336.6 444.0,338.6 444.6,335.1 445.2,330.1 445.8,336.7 446.4,336.4 447.0,335.6 447.6,331.9 448.2,332.6 448.8,338.8 449.4,335.7 450.0,335.0 450.6,330.9 451.2,342.1 451.8,325.7 452.4,337.9 453.0,341.3 453.6,332.5 454.2,336.2 454.8,332.0 455.4,340.4 456.0,330.4 456.6,337.6 457.2,335.4 457.8,332.4 458.4,339.0 459.0,330.6 459.6,335.2 460.2,336.1 460.8,334.3 461.4,337.1 462.0,337.2 462.6,333.5 463.2,334.3 463.8,334.6 464.4,335.0 465.0,337.9 465.6,333.8 466.2,336.7 466.8,334.6 467.4,333.2 468.0,338.6 468.6,331.5 469.2,336.6 469.8,339.2 470.4,330.6 471.0,336.4 471.6,331.2 472.2,335.8 472.8,331.9 473.4,336.0 474.0,334.2 474.6,336.2 475.2,339.2 475.8,334.0 476.4,336.6 477.0,334.2 477.6,334.5 478.2,333.2 478.8,331.3 479.4,337.4 480.0,339.3 480.6,334.4 481.2,333.1 481.8,340.0 482.4,331.9 483.0,333.9 483.6,332.5 484.2,333.9 484.8,335.5 485.4,340.5 486.0,332.0 486.6,332.5 487.2,334.5 487.8,335.0 488.4,330.6 489.0,337.2 489.6,336.6 490.2,334.9 490.8,336.0 491.4,330.7 492.0,331.9 492.6,340.2 493.2,336.1 493.8,329.4 494.4,337.1 495.0,334.6 495.6,336.1 496.2,334.6 496.8,333.1 497.4,335.8 498.0,334.9 498.6,334.3 499.2,329.8 499.8,328.9 500.4,336.1 501.0,331.2 501.6,337.2 502.2,336.2 502.8,334.4 503.4,333.3 504.0,335.2 504.6,337.5 505.2,331.2 505.8,337.8 506.4,335.3 507.0,334.3 507.6,338.0 508.2,330.8 508.8,337.8 509.4,330.9 510.0,333.5 510.6,332.5 511.2,336.8 511.8,331.4 512.4,335.6 513.0,331.3 513.6,338.5 514.2,337.9 514.8,332.7 515.4,338.3 516.0,333.8 516.6,339.3 517.2,331.9 517.8,330.0 518.4,340.0 519.0,332.1 519.6,331.6 520.2,333.7 520.8,330.7 521.4,335.6 522.0,331.5 522.6,339.3 523.2,334.1 523.8,328.9 524.4,332.1 525.0,334.4 525.6,329.7 526.2,336.0 526.8,334.0 527.4,332.0 528.0,333.5 528.6,336.0 529.2,337.1 529.8,336.2 530.4,332.3 531.0,336.1 531.6,331.0 532.2,335.9 532.8,330.9 533.4,336.9 534.0,329.7 534.6,332.8 535.2,335.0 535.8,335.3 536.4,329.4 537.0,334.1"/>
</g>
<rect x="33.5" y="36.5" width="503.5" height="335.4" fill="none" stroke="#000" stroke-width="1.45"/>
<path d="M33.60,371.9v3.2 M67.16,371.9v5.7 M100.73,371.9v3.2 M134.30,371.9v5.7 M167.86,371.9v3.2 M201.42,371.9v5.7 M234.99,371.9v3.2 M268.56,371.9v5.7 M302.12,371.9v3.2 M335.69,371.9v5.7 M369.25,371.9v3.2 M402.82,371.9v5.7 M436.38,371.9v3.2 M469.95,371.9v5.7 M503.51,371.9v3.2 M537.08,371.9v5.7 M33.5,47h-3 M33.5,101.2h-6 M33.5,155.5h-3 M33.5,209h-6 M33.5,263.5h-3 M33.5,318h-6 M33.5,372h-3" stroke="#000" stroke-width="1.2" fill="none"/>
<g font-family="Liberation Serif, serif" font-size="13.5" text-anchor="middle" fill="#000">
<text x="67.2" y="391.5">10</text>
<text x="134.3" y="391.5">20</text>
<text x="201.4" y="391.5">30</text>
<text x="268.6" y="391.5">40</text>
<text x="335.7" y="391.5">50</text>
<text x="402.8" y="391.5">60</text>
<text x="469.9" y="391.5">70</text>
<text x="537.1" y="391.5">80</text>
</g>
<text x="285" y="417" font-family="Liberation Serif, serif" font-size="16" text-anchor="middle">2θ (°)</text>
<text transform="translate(17.1,203.8) rotate(-90)" font-family="Liberation Serif, serif" font-size="15.7" text-anchor="middle">Intensity (Counts)</text>
<rect x="191.5" y="8.5" width="345.5" height="25" fill="#fff" stroke="#555" stroke-width="1"/>
<g stroke-width="2"><line x1="193" y1="20" x2="229" y2="20" stroke="#4a4a4a"/><line x1="307" y1="20" x2="343.3" y2="20" stroke="#ee3a40"/><line x1="421" y1="20" x2="457" y2="20" stroke="#2572e0"/></g>
<g font-family="Liberation Serif, serif" font-size="16" fill="#000">
<text x="233.3" y="25.8">3.27% SiO<tspan font-size="10.5" dy="4">2</tspan></text>
<text x="347.2" y="25.8">3.62% SiO<tspan font-size="10.5" dy="4">2</tspan></text>
<text x="461" y="25.8">3.92% SiO<tspan font-size="10.5" dy="4">2</tspan></text>
</g>
<g font-family="Liberation Serif, serif" font-size="18">
<text x="54" y="98.7" fill="#1b68c8" stroke="#1b68c8" stroke-width="0.2" textLength="85.5" lengthAdjust="spacingAndGlyphs">4.92% SiO<tspan font-size="12">2</tspan></text>
<text x="54" y="183.6" fill="#ff0000" stroke="#ff0000" stroke-width="0.2" textLength="85.5" lengthAdjust="spacingAndGlyphs">4.62% SiO<tspan font-size="12">2</tspan></text>
<text x="54" y="266.5" fill="#111" stroke="#111" stroke-width="0.2" textLength="85.5" lengthAdjust="spacingAndGlyphs">4.27% SiO<tspan font-size="12">2</tspan></text>
</g>
<g font-family="Liberation Serif, serif" font-size="12.5" fill="#000">
<text x="435.3" y="56.7" textLength="85.5" lengthAdjust="spacingAndGlyphs">Ferroferric oxide</text>
<text x="439.2" y="73.5" textLength="60.4" lengthAdjust="spacingAndGlyphs">Ferric oxide</text>
<text x="442.5" y="90.8" textLength="92" lengthAdjust="spacingAndGlyphs">Magnesium ferrite</text>
<text x="435.3" y="108.1" textLength="76.3" lengthAdjust="spacingAndGlyphs">Calcium ferrite</text>
<text x="441.8" y="125.1" textLength="84.5" lengthAdjust="spacingAndGlyphs">Calcium sillicate</text>
</g>
<g font-family="DejaVu Sans, sans-serif">
<text x="430.7" y="53.3" fill="#000" font-size="10" text-anchor="middle" dominant-baseline="central">♠</text>
<text x="430.7" y="70.0" fill="#ff0000" font-size="9.5" text-anchor="middle" dominant-baseline="central">♥</text>
<text transform="translate(430.6,87.8) scale(1.15,1.3)" fill="#1010e0" font-size="9" text-anchor="middle" dominant-baseline="central">♦</text>
<text x="430.7" y="104.1" fill="#f08020" font-size="10" text-anchor="middle" dominant-baseline="central">♣</text>
<text transform="translate(432.0,121.0) scale(1.1,1.0)" fill="#000" font-size="9" text-anchor="middle" dominant-baseline="central">◊</text>
<text x="123.6" y="141.6" fill="#000" font-size="13.5" text-anchor="middle" dominant-baseline="central">♠</text>
<text x="162.8" y="135.0" fill="#ff0000" font-size="12" text-anchor="middle" dominant-baseline="central">♥</text>
<text x="203.0" y="128.5" fill="#000" font-size="13.5" text-anchor="middle" dominant-baseline="central">♠</text>
<text x="223.5" y="101.4" fill="#ff0000" font-size="12" text-anchor="middle" dominant-baseline="central">♥</text>
<text x="237.4" y="78.9" fill="#000" font-size="13.5" text-anchor="middle" dominant-baseline="central">♠</text>
<text x="242.9" y="99.5" fill="#ff0000" font-size="12" text-anchor="middle" dominant-baseline="central">♥</text>
<text transform="translate(242.5,111.2) scale(1.2,1.25)" fill="#1010e0" font-size="10" text-anchor="middle" dominant-baseline="central">♦</text>
<text x="232.2" y="133.2" fill="#f08020" font-size="13" text-anchor="middle" dominant-baseline="central">♣</text>
<text transform="translate(289.6,133.0) scale(1.2,1.0)" fill="#000" font-size="12" text-anchor="middle" dominant-baseline="central">◊</text>
<text x="332.2" y="142.5" fill="#ff0000" font-size="12" text-anchor="middle" dominant-baseline="central">♥</text>
<text x="362.5" y="140.5" fill="#ff0000" font-size="12" text-anchor="middle" dominant-baseline="central">♥</text>
<text x="419.2" y="125.2" fill="#ff0000" font-size="12" text-anchor="middle" dominant-baseline="central">♥</text>
<text x="429.5" y="141.2" fill="#ff0000" font-size="12" text-anchor="middle" dominant-baseline="central">♥</text>
<text x="161.8" y="223.6" fill="#ff0000" font-size="12" text-anchor="middle" dominant-baseline="central">♥</text>
<text x="201.0" y="210.0" fill="#000" font-size="13.5" text-anchor="middle" dominant-baseline="central">♠</text>
<text x="222.2" y="207.0" fill="#ff0000" font-size="12" text-anchor="middle" dominant-baseline="central">♥</text>
<text x="236.6" y="171.0" fill="#000" font-size="13.5" text-anchor="middle" dominant-baseline="central">♠</text>
<text x="240.9" y="180.7" fill="#ff0000" font-size="12" text-anchor="middle" dominant-baseline="central">♥</text>
<text transform="translate(240.6,192.7) scale(1.2,1.25)" fill="#1010e0" font-size="10" text-anchor="middle" dominant-baseline="central">♦</text>
<text x="230.7" y="222.1" fill="#f08020" font-size="13" text-anchor="middle" dominant-baseline="central">♣</text>
<text transform="translate(289.6,230.9) scale(1.2,1.0)" fill="#000" font-size="12" text-anchor="middle" dominant-baseline="central">◊</text>
<text x="331.2" y="230.5" fill="#ff0000" font-size="12" text-anchor="middle" dominant-baseline="central">♥</text>
<text x="362.3" y="214.9" fill="#ff0000" font-size="12" text-anchor="middle" dominant-baseline="central">♥</text>
<text x="418.7" y="212.0" fill="#ff0000" font-size="12" text-anchor="middle" dominant-baseline="central">♥</text>
<text x="428.8" y="231.7" fill="#ff0000" font-size="12" text-anchor="middle" dominant-baseline="central">♥</text>
<text x="122.1" y="318.1" fill="#000" font-size="13.5" text-anchor="middle" dominant-baseline="central">♠</text>
<text x="161.6" y="311.4" fill="#ff0000" font-size="12" text-anchor="middle" dominant-baseline="central">♥</text>
<text x="201.2" y="304.6" fill="#000" font-size="13.5" text-anchor="middle" dominant-baseline="central">♠</text>
<text x="222.1" y="277.5" fill="#ff0000" font-size="12" text-anchor="middle" dominant-baseline="central">♥</text>
<text x="236.4" y="265.9" fill="#000" font-size="13.5" text-anchor="middle" dominant-baseline="central">♠</text>
<text x="241.2" y="275.7" fill="#ff0000" font-size="12" text-anchor="middle" dominant-baseline="central">♥</text>
<text transform="translate(240.9,287.7) scale(1.2,1.25)" fill="#1010e0" font-size="10" text-anchor="middle" dominant-baseline="central">♦</text>
<text x="230.5" y="310.6" fill="#f08020" font-size="13" text-anchor="middle" dominant-baseline="central">♣</text>
<text transform="translate(288.4,309.8) scale(1.2,1.0)" fill="#000" font-size="12" text-anchor="middle" dominant-baseline="central">◊</text>
<text x="332.2" y="314.9" fill="#ff0000" font-size="12" text-anchor="middle" dominant-baseline="central">♥</text>
<text x="362.5" y="309.5" fill="#ff0000" font-size="12" text-anchor="middle" dominant-baseline="central">♥</text>
<text x="418.6" y="301.4" fill="#ff0000" font-size="12" text-anchor="middle" dominant-baseline="central">♥</text>
<text x="430.0" y="317.9" fill="#ff0000" font-size="12" text-anchor="middle" dominant-baseline="central">♥</text>
</g>
</svg>
</body></html>
